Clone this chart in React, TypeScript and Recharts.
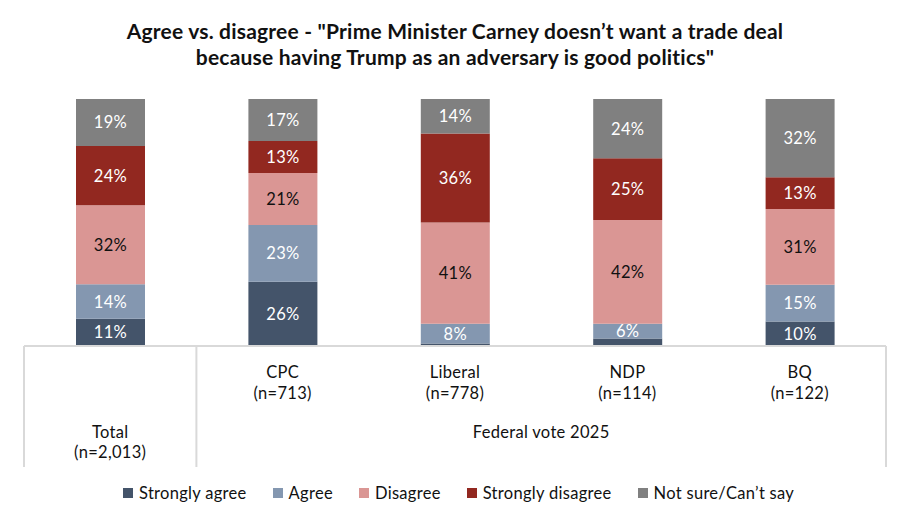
import React from "react";
import { BarChart, Bar, XAxis, YAxis, LabelList } from "recharts";

const categories = ["Total", "CPC", "Liberal", "NDP", "BQ"];
const sampleSizes = ["n=2,013", "n=713", "n=778", "n=114", "n=122"];
const stronglyAgree = [11, 26, 1, 3, 10];
const agree = [14, 23, 8, 6, 15];
const disagree = [32, 21, 41, 42, 31];
const stronglyDisagree = [24, 13, 36, 25, 13];
const notSure = [19, 17, 14, 24, 32];
const groupLabel = "Federal vote 2025";
const titleLines = [
  "Agree vs. disagree - \"Prime Minister Carney doesn\u2019t want a trade deal",
  "because having Trump as an adversary is good politics\"",
];

const series = [
  { key: "sa", name: "Strongly agree", values: stronglyAgree, color: "#44546A", text: "#FFFFFF" },
  { key: "a", name: "Agree", values: agree, color: "#8497B0", text: "#FFFFFF" },
  { key: "d", name: "Disagree", values: disagree, color: "#DA9694", text: "#111111" },
  { key: "sd", name: "Strongly disagree", values: stronglyDisagree, color: "#922820", text: "#FFFFFF" },
  { key: "ns", name: "Not sure/Can\u2019t say", values: notSure, color: "#808080", text: "#FFFFFF" },
];

const data = categories.map((c, i) => {
  const row: any = { cat: c, n: sampleSizes[i] };
  series.forEach((s) => (row[s.key] = s.values[i]));
  return row;
});

const W = 910;
const H = 525;
const M = { top: 99, right: 24, left: 24, bottom: 59 };
const AXIS_H = 120;
const BAND = (W - M.left - M.right) / categories.length;
const FONT = "Lato, 'Open Sans', sans-serif";
const LINE = "#D9D9D9";
const FS = 16.5;
const LS = 0.3;

function CategoryTick(props: any) {
  const { x, y, index, payload } = props;
  const isTotal = index === 0;
  const y1 = isTotal ? y + 86 : y + 26;
  const y2 = isTotal ? y + 106 : y + 47;
  const tp = { textAnchor: "middle" as const, dominantBaseline: "central" as const, fontSize: FS, fill: "#111", fontFamily: FONT, letterSpacing: LS };
  return (
    <g>
      <text x={x} y={y1} {...tp}>
        {payload.value}
      </text>
      <text x={x} y={y2} {...tp}>
        {"(" + sampleSizes[index] + ")"}
      </text>
      {isTotal && (
        <g>
          <line x1={x - BAND / 2} x2={x - BAND / 2} y1={y} y2={y + 121} stroke={LINE} strokeWidth={2} />
          <line x1={x + BAND / 2} x2={x + BAND / 2} y1={y} y2={y + 121} stroke={LINE} strokeWidth={2} />
          <text x={x + BAND * 2.5} y={y + 86} {...tp}>
            {groupLabel}
          </text>
        </g>
      )}
      {index === categories.length - 1 && (
        <line x1={x + BAND / 2} x2={x + BAND / 2} y1={y} y2={y + 121} stroke={LINE} strokeWidth={2} />
      )}
    </g>
  );
}

function makeLabel(color: string, key: string) {
  return (props: any) => {
    const { x, y, width, height, index } = props;
    const v = data[index][key];
    if (v < 5) return null;
    return (
      <text
        x={x + width / 2}
        y={y + height / 2}
        textAnchor="middle"
        dominantBaseline="central"
        fontSize={FS}
        fill={color}
        fontFamily={FONT}
        letterSpacing={LS}
      >
        {v + "%"}
      </text>
    );
  };
}

function LegendRow() {
  return (
    <div
      style={{
        position: "absolute",
        top: 482,
        left: 123,
        height: 22,
        display: "flex",
        alignItems: "center",
        fontFamily: FONT,
        fontSize: FS,
        letterSpacing: LS,
        color: "#111",
        whiteSpace: "nowrap",
      }}
    >
      {series.map((s, i) => (
        <div key={s.key} style={{ display: "flex", alignItems: "center", marginRight: i < series.length - 1 ? 26 : 0 }}>
          <span style={{ width: 10, height: 10, background: s.color, display: "inline-block", marginRight: 6 }} />
          <span>{s.name}</span>
        </div>
      ))}
    </div>
  );
}

export default function App() {
  return (
    <div style={{ position: "absolute", left: 0, top: 0, width: W, height: H, background: "#fff" }}>
      <div
        style={{
          position: "absolute",
          top: 18,
          left: 0,
          width: W,
          textAlign: "center",
          fontFamily: FONT,
          fontWeight: 700,
          fontSize: 21,
          letterSpacing: 0.2,
          lineHeight: "26px",
          color: "#111",
        }}
      >
        {titleLines.map((t, i) => (
          <div key={i}>{t}</div>
        ))}
      </div>
      <BarChart width={W} height={H} data={data} margin={M} stackOffset="expand" barSize={69}>
        <XAxis
          dataKey="cat"
          height={AXIS_H}
          interval={0}
          tickLine={false}
          tickSize={0}
          tickMargin={0}
          axisLine={{ stroke: LINE, strokeWidth: 2 }}
          tick={<CategoryTick />}
        />
        <YAxis hide domain={[0, 1]} />
        {series.map((s) => (
          <Bar key={s.key} dataKey={s.key} name={s.name} stackId="x" fill={s.color} isAnimationActive={false}>
            <LabelList dataKey={s.key} content={makeLabel(s.text, s.key)} />
          </Bar>
        ))}
      </BarChart>
      <LegendRow />
    </div>
  );
}
